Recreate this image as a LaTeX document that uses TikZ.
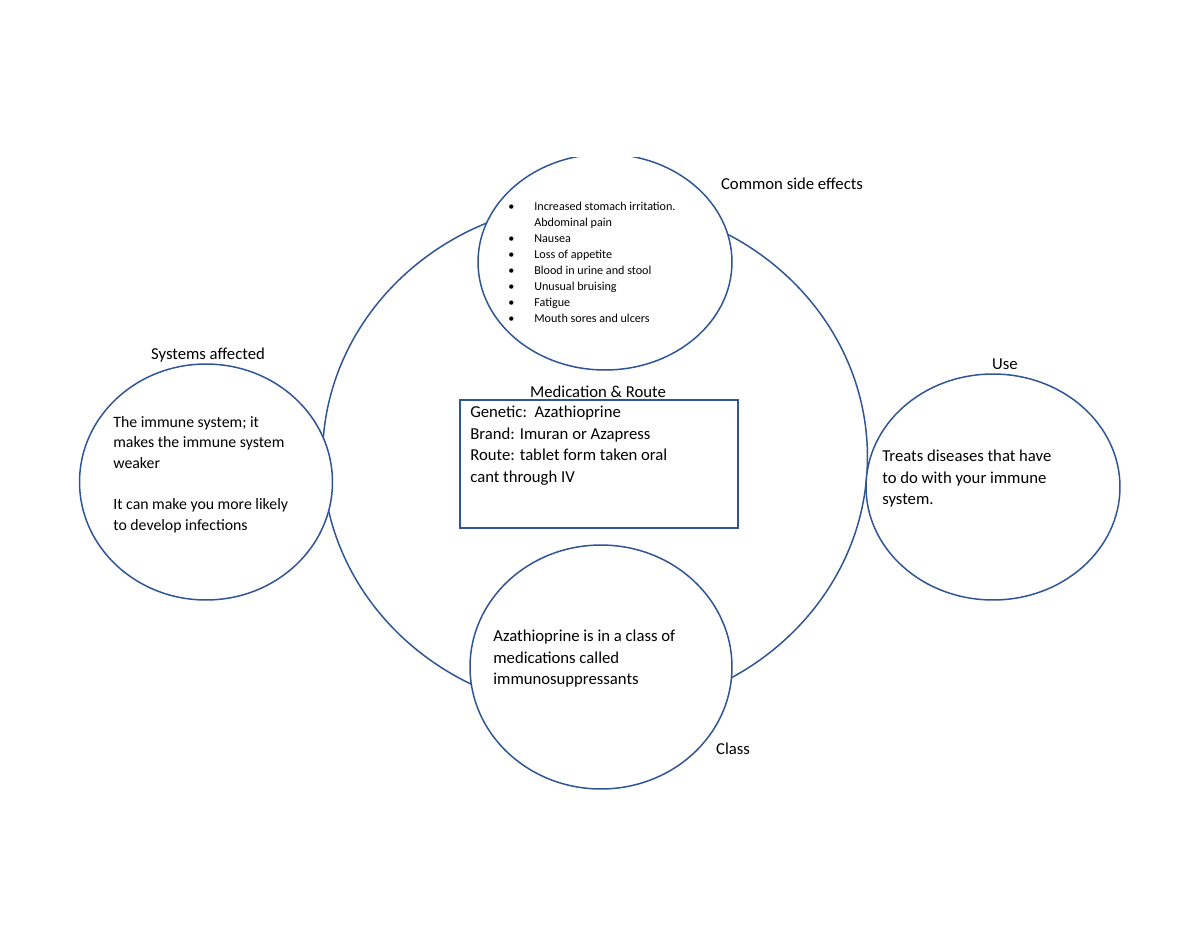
\documentclass[tikz,border=0pt]{standalone}
\usepackage{fontspec}
\setmainfont{Carlito}
\usetikzlibrary{shapes.geometric}
\newcommand{\blt}{\makebox[0.52cm][l]{\textbullet}}
\begin{document}
\begin{tikzpicture}[x=0.02cm,y=-0.02cm,
  ring/.style={draw=rb, line width=0.85pt, fill=white},
  lbl/.style={font=\fontsize{9.5}{12}\selectfont},
  body/.style={font=\fontsize{9.5}{12.2}\selectfont, align=left, anchor=north west, inner sep=0pt},
  small/.style={font=\fontsize{6.9}{9.1}\selectfont, align=left, anchor=north west, inner sep=0pt}]
\definecolor{rb}{HTML}{2F5597}
\useasboundingbox (0,0) rectangle (1200,927);
\node[ring, ellipse, minimum width=10.9cm, minimum height=10.2cm, inner sep=0] (big) at (595,457) {};
\begin{scope}
\clip (0,157) rectangle (1200,927);
\node[ring, ellipse, minimum width=5.08cm, minimum height=4.32cm, inner sep=0] (top) at (605,262) {};
\end{scope}
\node[ring, ellipse, minimum width=5.06cm, minimum height=4.72cm, inner sep=0] (left) at (206,482) {};
\node[ring, ellipse, minimum width=5.08cm, minimum height=4.52cm, inner sep=0] (right) at (993,487) {};
\node[ring, ellipse, minimum width=5.24cm, minimum height=4.88cm, inner sep=0] (bot) at (601,667) {};
\node[ring, rectangle, minimum width=5.56cm, minimum height=2.56cm, inner sep=0] (box) at (599,464) {};

\node[lbl] (l1) at (792,184) {Common side effects};
\node[lbl] (l2) at (208,355) {Systems affected};
\node[lbl] (l3) at (1005,364) {Use};
\node[lbl] (l4) at (598,392) {Medication \& Route};
\node[lbl] (l5) at (733,749) {Class};

\node[small] (se) at (508,202) {%
\blt Increased stomach irritation.\\
\hspace*{0.52cm}Abdominal pain\\
\blt Nausea\\
\blt Loss of appetite\\
\blt Blood in urine and stool\\
\blt Unusual bruising\\
\blt Fatigue\\
\blt Mouth sores and ulcers};

\node[body] (bt) at (470,406) {Genetic:\ \ Azathioprine\\Brand: Imuran or Azapress\\Route: tablet form taken oral\\cant through IV};
\node[body, font=\fontsize{9}{11.7}\selectfont] (lt) at (113,416) {The immune system; it\\makes the immune system\\weaker\\[11.7pt]It can make you more likely\\to develop infections};
\node[body] (rt) at (882,450) {Treats diseases that have\\to do with your immune\\system.};
\node[body] (ct) at (493,630) {Azathioprine is in a class of\\medications called\\immunosuppressants};
\end{tikzpicture}
\end{document}
